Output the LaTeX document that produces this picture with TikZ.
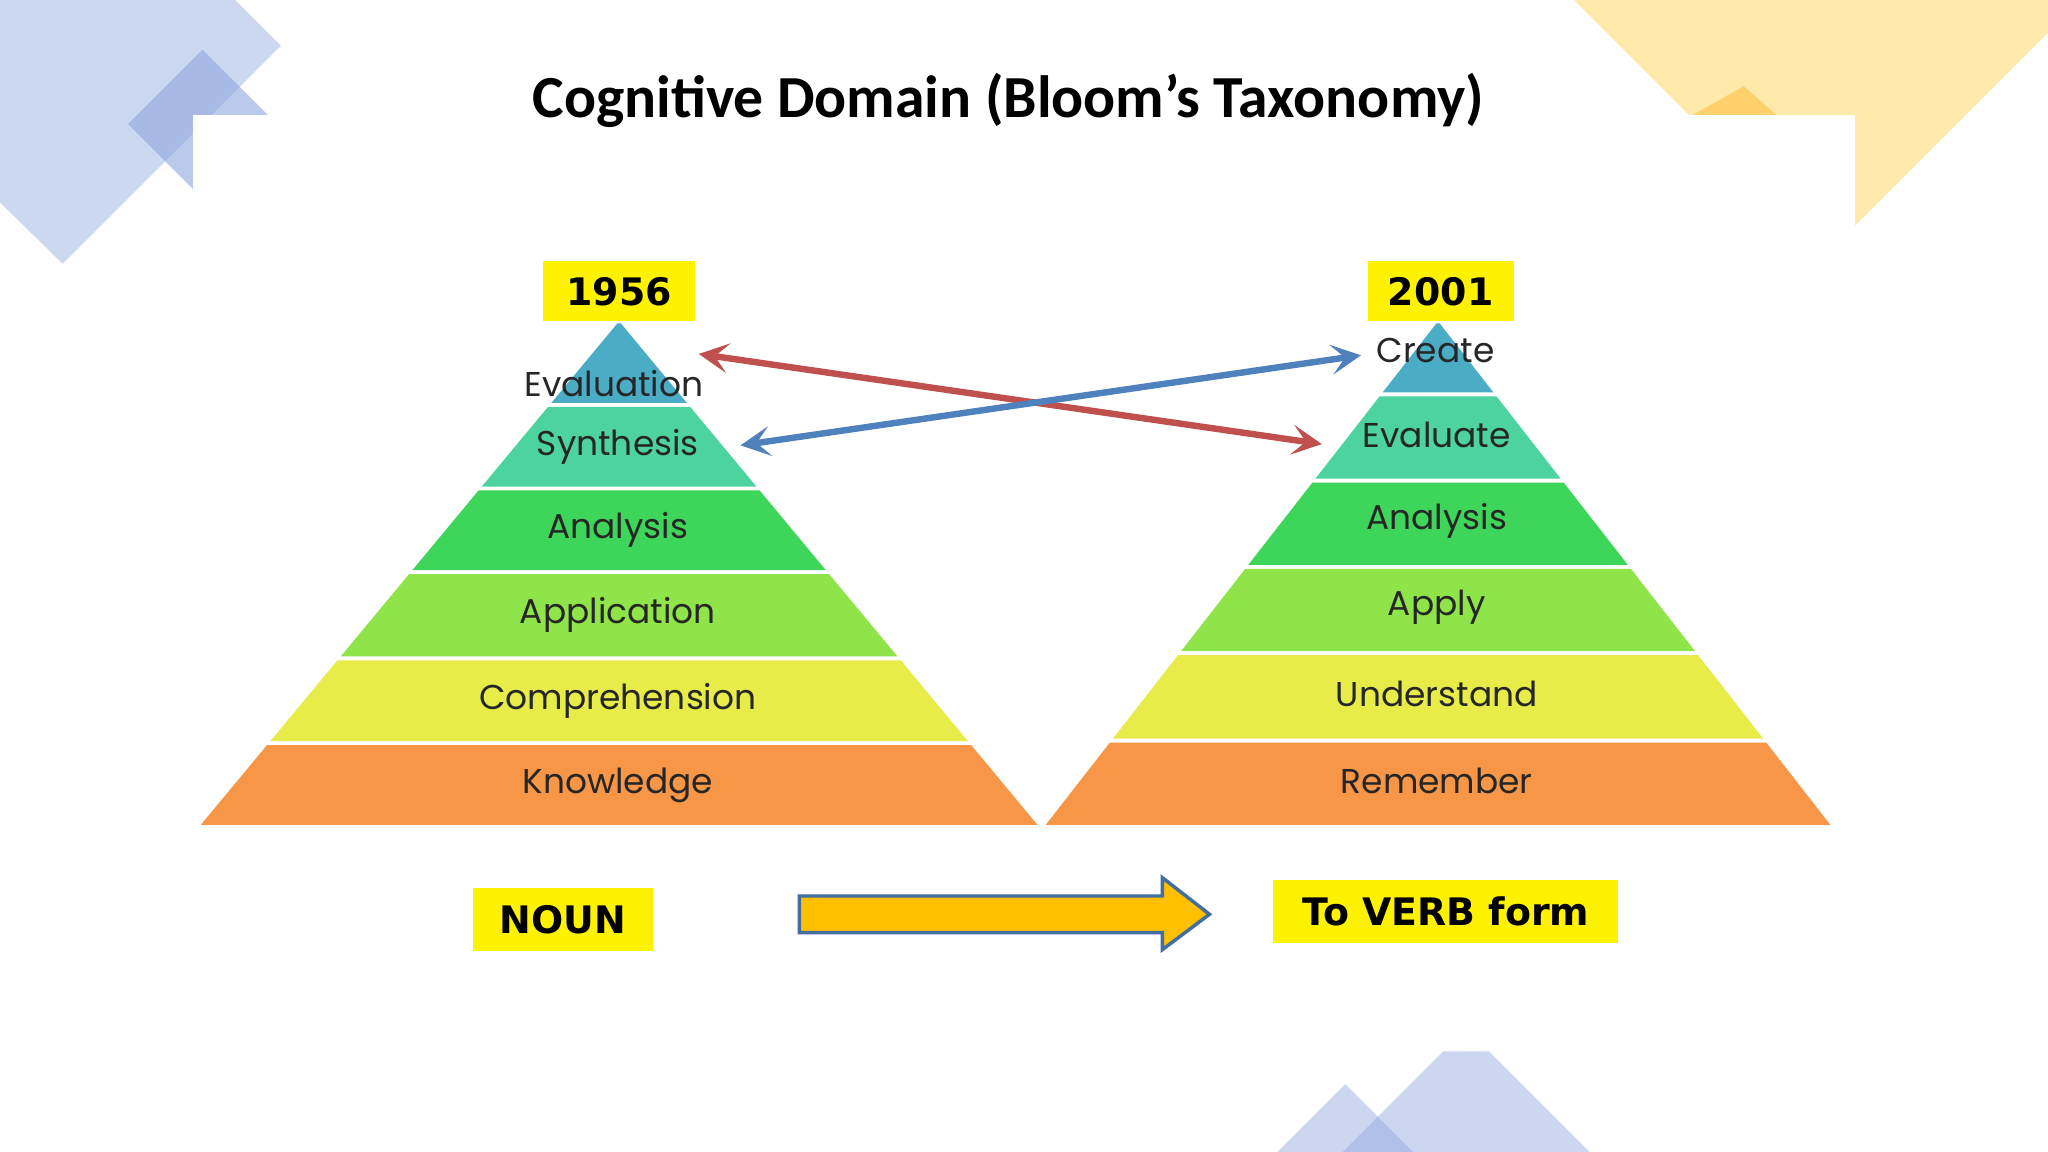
\documentclass[tikz,border=0pt]{standalone}
\usepackage{fontspec}
\setmainfont{Poppins}
\newfontfamily\titlefont{Carlito}
\newfontfamily\tagfont{DejaVu Sans}
\usetikzlibrary{arrows.meta}
\definecolor{lvA}{HTML}{4BACC6}
\definecolor{lvB}{HTML}{4DD3A0}
\definecolor{lvC}{HTML}{3ED65A}
\definecolor{lvD}{HTML}{8FE449}
\definecolor{lvE}{HTML}{E8EC48}
\definecolor{lvF}{HTML}{F79646}
\definecolor{decoblue}{HTML}{8EA6DE}
\definecolor{decoyellow}{HTML}{FFD966}
\definecolor{arrred}{HTML}{C0504D}
\definecolor{arrblue}{HTML}{4F81BD}
\definecolor{bigfill}{HTML}{FFC000}
\tikzset{
  lbl/.style={font=\fontsize{15}{17}\selectfont, text=black!85},
  tag/.style={fill=yellow, font=\tagfont\bfseries\fontsize{16.5}{18}\selectfont, inner sep=0pt, minimum height=26pt},
  cross/.style={line width=2.8pt, {Stealth[length=13pt,width=13pt,inset=6pt]}-{Stealth[length=13pt,width=13pt,inset=6pt]}},
}
\begin{document}
\begin{tikzpicture}[x=0.02cm,y=-0.02cm]
\useasboundingbox (0,0) rectangle (1568,882);
% decorations
\fill[decoblue,opacity=0.45] (0,0) -- (180,0) -- (215,35) -- (48,202) -- (0,155) -- cycle;
\fill[decoblue,opacity=0.6] (155,38) -- (205,88) -- (148,145) -- (98,95) -- cycle;
\fill[decoyellow,opacity=0.55] (1205,0) -- (1568,0) -- (1568,25) -- (1399,194) -- cycle;
\fill[decoyellow!80!orange,opacity=0.7] (1296,88) -- (1335,66) -- (1360,88) -- cycle;
\fill[white] (148,88) rectangle (1420,882);
\fill[decoblue,opacity=0.45] (978,882) -- (1030,830) -- (1082,882) -- cycle;
\fill[decoblue,opacity=0.45] (1028,882) -- (1105,805) -- (1140,805) -- (1217,882) -- cycle;
% title
\node[font=\titlefont\bfseries\fontsize{26}{29}\selectfont] (title) at (772,77) {Cognitive Domain (Bloom’s Taxonomy)};
% left pyramid
\foreach \ya/\yb/\c/\t/\n in {246/310/lvA//l1, 310/374/lvB/Synthesis/l2, 374/438/lvC/Analysis/l3,
    438/504/lvD/Application/l4, 504/569/lvE/Comprehension/l5, 569/633/lvF/Knowledge/l6}{
  \pgfmathsetmacro\wa{(\ya+1.5-246)*0.830749}
  \pgfmathsetmacro\wb{(\yb-1.5-246)*0.830749}
  \fill[\c] (474-\wa,\ya+1.5) -- (474+\wa,\ya+1.5) -- (474+\wb,\yb-1.5) -- (474-\wb,\yb-1.5) -- cycle;
  \node[lbl] (\n) at (473,{(\ya+\yb)/2}) {\t};
}
\node[lbl] (eval) at (470,294) {Evaluation};
% right pyramid
\foreach \ya/\yb/\c/\t/\n in {246/302/lvA//r1, 302/368/lvB/Evaluate/r2, 368/434/lvC/Analysis/r3,
    434/500/lvD/Apply/r4, 500/567/lvE/Understand/r5, 567/633/lvF/Remember/r6}{
  \pgfmathsetmacro\wa{(\ya+1.5-246)*0.779070}
  \pgfmathsetmacro\wb{(\yb-1.5-246)*0.779070}
  \fill[\c] (1101-\wa,\ya+1.5) -- (1101+\wa,\ya+1.5) -- (1101+\wb,\yb-1.5) -- (1101-\wb,\yb-1.5) -- cycle;
  \node[lbl] (\n) at (1100,{(\ya+\yb)/2-2}) {\t};
}
\node[lbl] (create) at (1099,268) {Create};
% year tags
\node[tag, minimum width=117*0.567pt] (y1956) at (474,223) {1956};
\node[tag, minimum width=112*0.567pt] (y2001) at (1103,223) {2001};
% crossing arrows
\coordinate (redA) at (535,271);
\coordinate (redB) at (1012,340);
\coordinate (bluA) at (567,341);
\coordinate (bluB) at (1042,272);
\draw[cross, arrred] (redA) -- (redB);
\draw[cross, arrblue] (bluA) -- (bluB);
% bottom
\node[tag, minimum width=139*0.567pt, minimum height=48*0.567pt] (noun) at (431,704) {NOUN};
\node[tag, minimum width=265*0.567pt, minimum height=48*0.567pt] (verb) at (1107,698) {To VERB form};
\draw[arrblue!85!black, fill=bigfill, line width=1.5pt, line join=miter]
  (612,686) -- (890,686) -- (890,672) -- (926,700) -- (890,727) -- (890,714) -- (612,714) -- cycle;
\end{tikzpicture}
\end{document}
